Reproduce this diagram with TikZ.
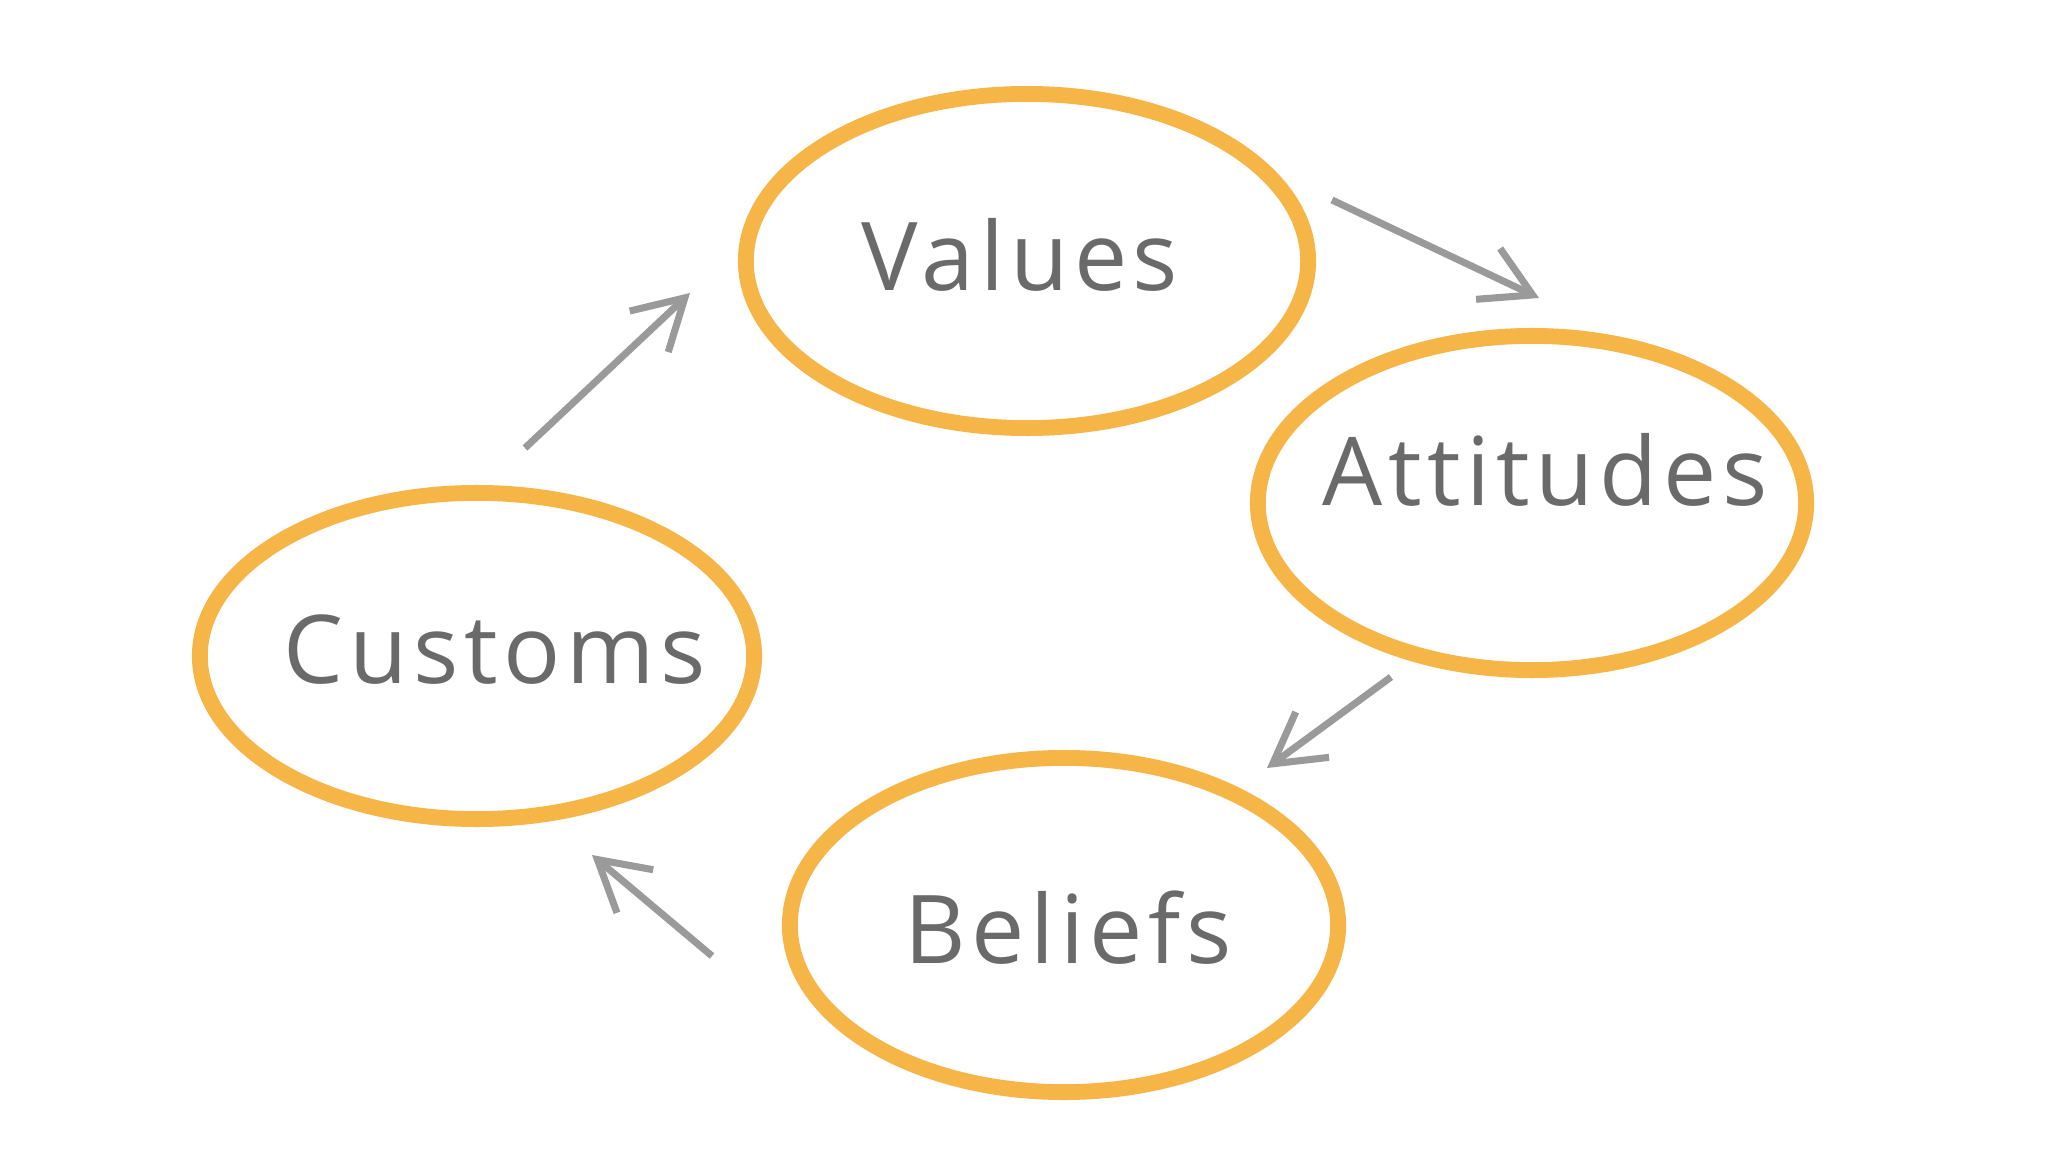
\documentclass[tikz,border=0pt]{standalone}
\usepackage{fontspec}
\setmainfont{Open Sans}
\usetikzlibrary{arrows.meta,shapes.geometric}
\definecolor{ora}{HTML}{F5B547}
\definecolor{arr}{HTML}{9A9A9A}
\definecolor{txt}{HTML}{6A6A6A}
\tikzset{
 oval/.style={draw=ora,line width=4.5pt,ellipse,inner sep=0pt,minimum width=#1},
 lbl/.style={text=txt,font=\fontsize{27}{32}\selectfont\addfontfeature{LetterSpace=6}},
 con/.style={draw=arr,line width=2pt,-{Straight Barb[length=14pt,width=16pt,line width=2pt]}}
}
\begin{document}
\begin{tikzpicture}[x=0.01cm,y=-0.01cm]
\useasboundingbox[fill=white] (0,0) rectangle (2048,1152);
\node[oval=5.62cm,minimum height=3.34cm] (v) at (1027,261) {};
\node[oval=5.48cm,minimum height=3.34cm] (a) at (1532,503) {};
\node[oval=5.54cm,minimum height=3.26cm] (c) at (477,656) {};
\node[oval=5.48cm,minimum height=3.34cm] (b) at (1064,925) {};
\node[lbl] (vt) at (1020,255) {Values};
\node[lbl] (at) at (1545,470) {Attitudes};
\node[lbl] (ct) at (495,650) {Customs};
\node[lbl] (bt) at (1068,928) {Beliefs};
\coordinate (c1) at (525,448); \coordinate (c2) at (690,293);
\coordinate (v1) at (1332,200); \coordinate (v2) at (1539,298);
\coordinate (a1) at (1391,677); \coordinate (a2) at (1267,768);
\coordinate (b1) at (712,956); \coordinate (b2) at (592,855);
\draw[con] (c1) -- (c2);
\draw[con] (v1) -- (v2);
\draw[con] (a1) -- (a2);
\draw[con] (b1) -- (b2);
\end{tikzpicture}
\end{document}
